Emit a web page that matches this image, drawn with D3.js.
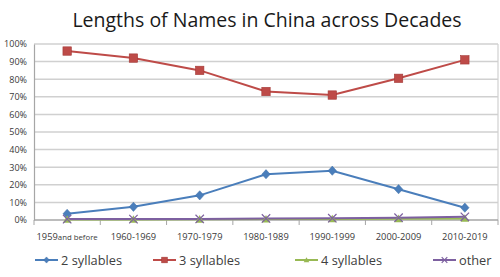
<!DOCTYPE html>
<html lang="en">
<head>
    <meta charset="UTF-8">
    <title>Lengths of Names in China across Decades</title>
    <script src="https://d3js.org/d3.v7.min.js"></script>
    <style>
        body { margin: 0; background: #fff; }
        svg { display: block; }
        .tick_text { font-family: "Open Sans", sans-serif; fill: #3a3a3a; }
    </style>
</head>
<body>
<svg width="500" height="277"></svg>

<script>
    // decades on the x axis
    const decades = ["1959and before", "1960-1969", "1970-1979", "1980-1989",
        "1990-1999", "2000-2009", "2010-2019"];

    // share of names per syllable count (percent)
    const two_syll   = [3.5, 7.5, 14, 26, 28, 17.5, 7];
    const three_syll = [96, 92, 85, 73, 71, 80.5, 91];
    const four_syll  = [0.3, 0.3, 0.4, 0.5, 0.6, 0.7, 0.9];
    const other_syll = [0.5, 0.5, 0.6, 0.9, 1.0, 1.3, 1.8];

    const y_ticks = [0, 10, 20, 30, 40, 50, 60, 70, 80, 90, 100];
    const series_names = ["2 syllables", "3 syllables", "4 syllables", "other"];

    const series = [
        {name: series_names[0], values: two_syll,   color: "#4a7ebb", marker: "diamond"},
        {name: series_names[1], values: three_syll, color: "#be4b48", marker: "square"},
        {name: series_names[2], values: four_syll,  color: "#98b954", marker: "triangle"},
        {name: series_names[3], values: other_syll, color: "#7d60a0", marker: "cross"}
    ];

    let svg = d3.select("svg");

    const plotLeft = 34, plotRight = 498, plotTop = 44, plotBottom = 220;

    let x = d3.scaleBand().domain(decades).range([plotLeft, plotRight]);
    let y = d3.scaleLinear().domain([0, 100]).range([plotBottom, plotTop]);

    // title
    svg.append("text")
        .attr("x", 267).attr("y", 27)
        .attr("text-anchor", "middle")
        .attr("font-family", "Open Sans, sans-serif")
        .attr("font-size", "19.5px")
        .attr("fill", "#1a1a1a")
        .text("Lengths of Names in China across Decades");

    // gridlines
    svg.append("g").selectAll("line")
        .data(y_ticks.filter(d => d > 0))
        .enter().append("line")
        .attr("x1", plotLeft).attr("x2", plotRight)
        .attr("y1", d => y(d)).attr("y2", d => y(d))
        .attr("stroke", "#d0d0d0")
        .attr("stroke-width", 1.5);

    // right border and left axis
    svg.append("line").attr("x1", plotRight).attr("x2", plotRight).attr("y1", plotTop).attr("y2", plotBottom)
        .attr("stroke", "#d0d0d0").attr("stroke-width", 1.2);

    let yAxis = d3.axisLeft(y).tickValues(y_ticks).tickSize(0).tickPadding(7)
        .tickFormat(d => d + "%");
    let gy = svg.append("g").attr("transform", `translate(${plotLeft},0)`).call(yAxis);
    gy.select(".domain").attr("stroke", "#a6a6a6").attr("stroke-width", 1.2);
    gy.selectAll("text")
        .attr("class", "tick_text")
        .attr("font-size", "9px");

    // x axis
    svg.append("line").attr("x1", plotLeft).attr("x2", plotRight).attr("y1", plotBottom).attr("y2", plotBottom)
        .attr("stroke", "#a6a6a6").attr("stroke-width", 1.5);
    svg.append("g").selectAll("line")
        .data(d3.range(decades.length + 1))
        .enter().append("line")
        .attr("x1", i => plotLeft + i * x.step()).attr("x2", i => plotLeft + i * x.step())
        .attr("y1", plotBottom).attr("y2", plotBottom + 5)
        .attr("stroke", "#a6a6a6").attr("stroke-width", 1);

    let xlab = svg.append("g").selectAll("text")
        .data(decades)
        .enter().append("text")
        .attr("class", "tick_text")
        .attr("x", d => x(d) + x.bandwidth() / 2)
        .attr("y", 240)
        .attr("text-anchor", "middle")
        .attr("font-size", "9.3px");
    xlab.each(function (d) {
        let t = d3.select(this);
        if (d.startsWith("1959")) {
            t.append("tspan").text("1959");
            t.append("tspan").attr("font-size", "7.8px").text("and before");
        } else {
            t.text(d);
        }
    });

    // markers
    function drawMarker(g, type, color, r) {
        if (type === "diamond") {
            g.append("path").attr("d", `M0,${-r * 1.1}L${r},0L0,${r * 1.1}L${-r},0Z`)
                .attr("fill", color).attr("stroke", "#3f6ea6").attr("stroke-width", 0.5);
        } else if (type === "square") {
            g.append("rect").attr("x", -r).attr("y", -r).attr("width", 2 * r).attr("height", 2 * r)
                .attr("fill", color).attr("stroke", "#a33a37").attr("stroke-width", 0.6);
        } else if (type === "triangle") {
            g.append("path").attr("d", `M0,${-r}L${r},${r * 0.8}L${-r},${r * 0.8}Z`)
                .attr("fill", color);
        } else {
            g.append("path").attr("d", `M${-r},${-r}L${r},${r}M${-r},${r}L${r},${-r}`)
                .attr("fill", "none").attr("stroke", color).attr("stroke-width", 1.2);
        }
    }

    const line = d3.line()
        .x((d, i) => x(decades[i]) + x.bandwidth() / 2)
        .y(d => y(d));

    series.forEach(function (s) {
        svg.append("path")
            .datum(s.values)
            .attr("d", line)
            .attr("fill", "none")
            .attr("stroke", s.color)
            .attr("stroke-width", 2);
    });

    series.forEach(function (s) {
        s.values.forEach(function (v, i) {
            let g = svg.append("g")
                .attr("transform", `translate(${x(decades[i]) + x.bandwidth() / 2},${y(v)})`);
            drawMarker(g, s.marker, s.color, 4.2);
        });
    });

    // legend
    const legend_x = [35, 153, 295, 433];
    series.forEach(function (s, i) {
        let g = svg.append("g").attr("transform", `translate(${legend_x[i]},260)`);
        g.append("line").attr("x1", 0).attr("x2", 23).attr("y1", 0).attr("y2", 0)
            .attr("stroke", s.color).attr("stroke-width", 2);
        let m = g.append("g").attr("transform", "translate(11.5,0)");
        drawMarker(m, s.marker, s.color, 2.8);
        g.append("text")
            .attr("x", 26).attr("y", 4.5)
            .attr("font-family", "Open Sans, sans-serif")
            .attr("font-size", "12.8px")
            .attr("fill", "#404040")
            .text(s.name);
    });
</script>
</body>
</html>
